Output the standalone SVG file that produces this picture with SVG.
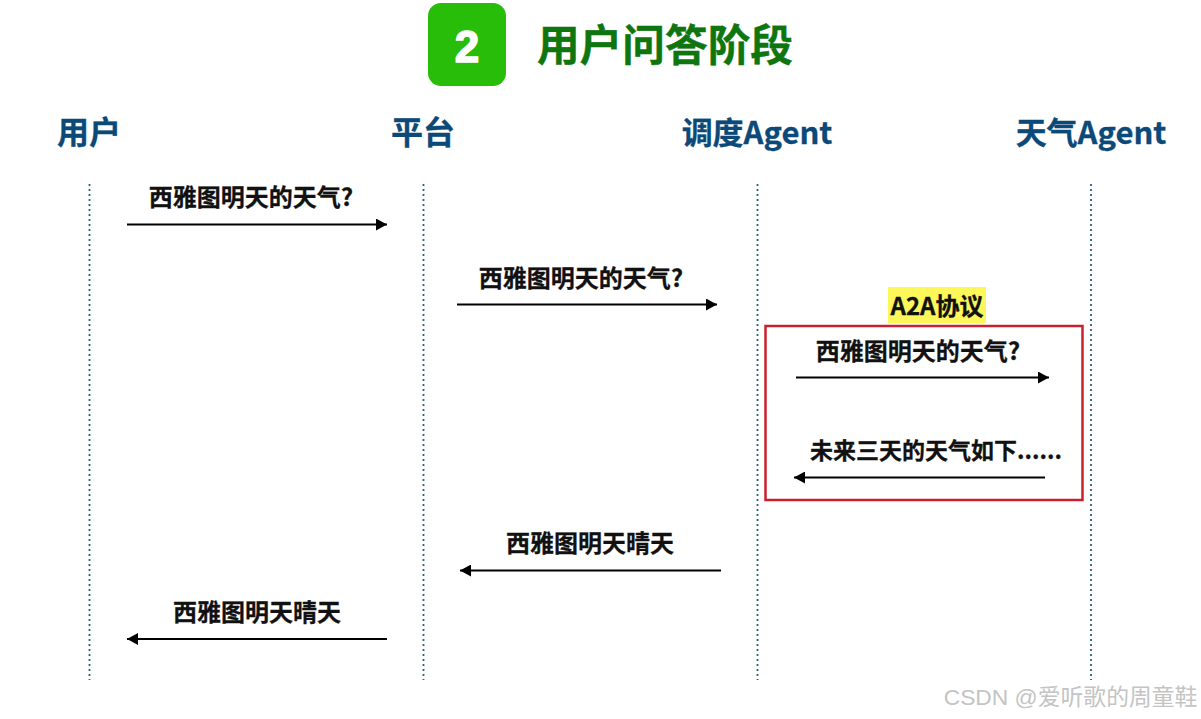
<svg xmlns="http://www.w3.org/2000/svg" width="1201" height="719" viewBox="0 0 1201 719">
<style>
text{font-family:"Noto Sans CJK SC","Noto Sans",sans-serif;font-weight:700}
.life{stroke:#2a6478;stroke-width:1.800;stroke-dasharray:2 3;fill:none}
.conn{stroke:#000;stroke-width:2.200;fill:none;marker-end:url(#arr)}
.h{font-size:31px;fill:#0b4a78;text-anchor:middle;stroke:#0b4a78;stroke-width:.3}
.m{font-size:24px;fill:#111;text-anchor:middle;stroke:#111;stroke-width:.3}
</style>
<defs><marker id="arr" markerUnits="userSpaceOnUse" markerWidth="11" markerHeight="12" refX="11" refY="6" orient="auto"><path d="M0 0L11 6L0 12z" fill="#000"/></marker></defs>
<rect width="1201" height="719" fill="#fff"/>
<g id="title">
<rect x="428" y="3" width="78" height="83" rx="13" fill="#27bd09"/>
<text x="467" y="62" font-size="44" fill="#fff" stroke="#fff" stroke-width="1.500" text-anchor="middle" style="font-family:'Liberation Sans',sans-serif">2</text>
<text x="665" y="61" font-size="42.700" fill="#0f760f" stroke="#0f760f" stroke-width=".4" text-anchor="middle">用户问答阶段</text>
</g>
<g id="actor-user"><text class="h" x="89" y="144" style="font-size:32px">用户</text></g>
<g id="actor-platform"><text class="h" x="423" y="144" style="font-size:32px">平台</text></g>
<g id="actor-scheduler"><text class="h" x="757" y="144">调度Agent</text></g>
<g id="actor-weather"><text class="h" x="1091" y="144">天气Agent</text></g>
<g id="lifelines">
<path class="life" d="M89.500 184V680"/>
<path class="life" d="M423.500 184V680"/>
<path class="life" d="M757.500 184V680"/>
<path class="life" d="M1091 184V680"/>
</g>
<g id="a2a-box">
<rect x="888" y="287" width="98" height="36" fill="#fdf75a"/>
<text x="937" y="315" font-size="24" fill="#111" stroke="#111" stroke-width=".3" text-anchor="middle">A2A协议</text>
<rect x="765.500" y="326" width="317" height="174" fill="none" stroke="#c8202c" stroke-width="2.500"/>
</g>
<g id="connectors">
<path class="conn" d="M127 224.500H387"/>
<path class="conn" d="M457 304.500H717"/>
<path class="conn" d="M796 377.500H1049"/>
<path class="conn" d="M1045 477.500H794"/>
<path class="conn" d="M721 570.500H460"/>
<path class="conn" d="M387 639H127"/>
</g>
<g id="labels">
<text class="m" x="251" y="206">西雅图明天的天气?</text>
<text class="m" x="581" y="287">西雅图明天的天气?</text>
<text class="m" x="918" y="360">西雅图明天的天气?</text>
<text class="m" x="936" y="459" style="font-size:23px">未来三天的天气如下......</text>
<text class="m" x="590" y="552">西雅图明天晴天</text>
<text class="m" x="257" y="621">西雅图明天晴天</text>
</g>
<text x="1070.500" y="705" font-size="22.800" fill="#c4c4c4" text-anchor="middle" style="font-weight:400;font-family:'Liberation Sans','Noto Sans CJK SC',sans-serif">CSDN @爱听歌的周童鞋</text>
</svg>
